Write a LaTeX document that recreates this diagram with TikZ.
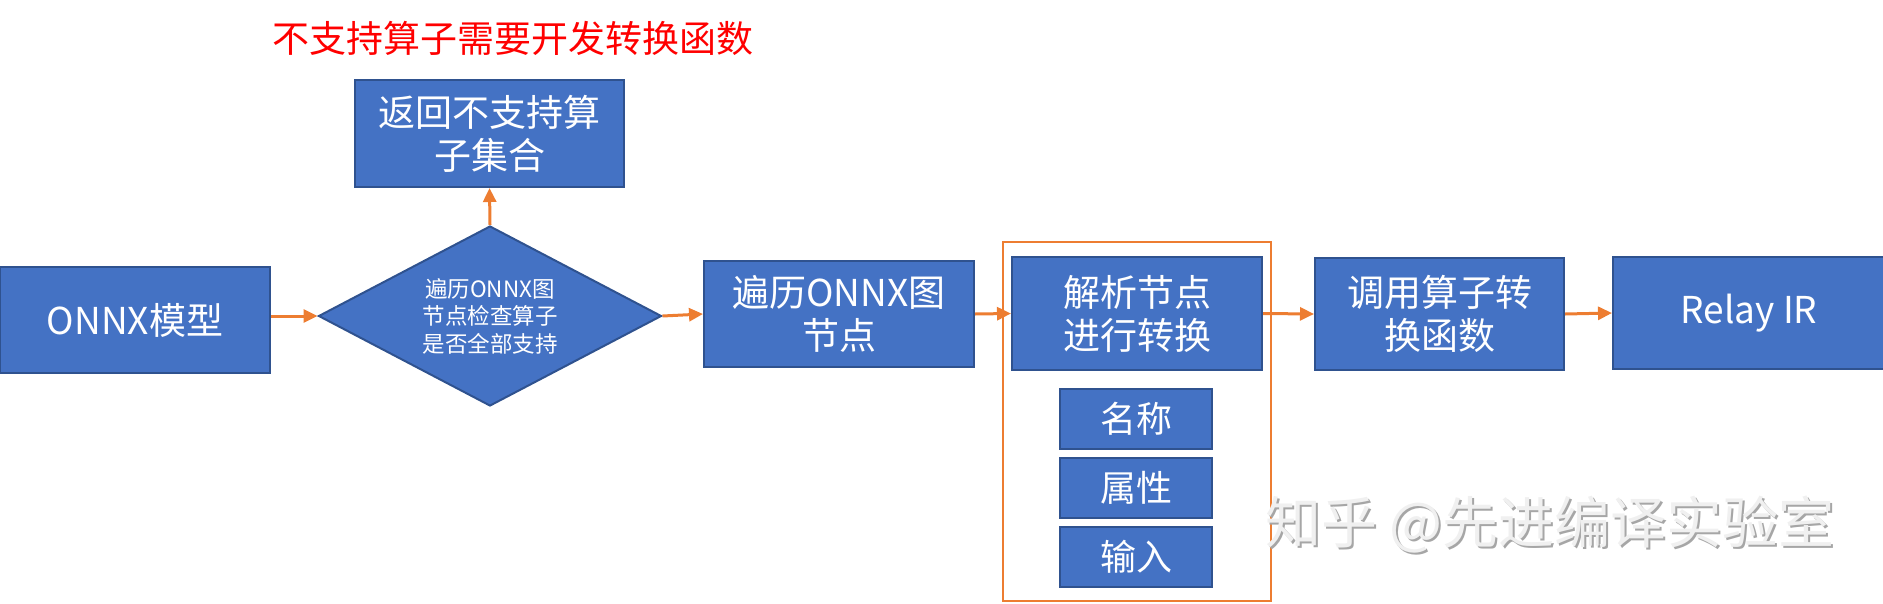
\documentclass[tikz,border=0pt]{standalone}
\usepackage{fontspec}
\setmainfont{Noto Sans CJK SC}
\usetikzlibrary{shapes.geometric,arrows.meta}
\definecolor{boxblue}{HTML}{4472C4}
\definecolor{boxedge}{HTML}{2F528F}
\definecolor{arrorange}{HTML}{ED7D31}
\definecolor{titlered}{HTML}{FF0000}
\begin{document}
\begin{tikzpicture}[x=1pt,y=-1pt,
  bluebox/.style={draw=boxedge,line width=2pt,fill=boxblue,text=white,inner sep=0pt,align=center,font=\fontsize{37}{43}\selectfont},
  smallbox/.style={bluebox,minimum width=152pt,minimum height=60pt,font=\fontsize{36}{43}\selectfont},
  flow/.style={draw=arrorange,line width=3pt,-{Triangle[length=14pt,width=13pt]}},
  groupbox/.style={draw=arrorange,line width=2pt,inner sep=0pt},
  wmark/.style={font=\fontsize{56}{60}\selectfont}]
\useasboundingbox (0,0) rectangle (1883,603);
% title
\node[text=titlered,font=\fontsize{37}{43}\selectfont] (title) at (513,38) {不支持算子需要开发转换函数};
% boxes
\node[bluebox,minimum width=270pt,minimum height=106pt] (onnx) at (135,320) {ONNX模型};
\node[bluebox,minimum width=269pt,minimum height=107pt] (ret) at (489.5,133.5) {返回不支持算\\子集合};
\node[bluebox,shape=diamond,shape aspect=1.9,minimum width=343pt,minimum height=180pt,font=\fontsize{22.5}{27.5}\selectfont] (check) at (490,316) {遍历ONNX图\\节点检查算子\\是否全部支持};
\node[bluebox,minimum width=270pt,minimum height=106pt] (trav) at (839,314) {遍历ONNX图\\节点};
\node[groupbox,minimum width=268pt,minimum height=359pt] (group) at (1137,421.5) {};
\node[bluebox,minimum width=250pt,minimum height=113pt] (parse) at (1137,313.5) {解析节点\\进行转换};
\node[smallbox] (name) at (1136,419) {名称};
\node[smallbox] (attr) at (1136,488) {属性};
\node[smallbox] (inp) at (1136,557) {输入};
\node[bluebox,minimum width=249pt,minimum height=112pt] (call) at (1439.5,314) {调用算子转\\换函数};
\node[bluebox,minimum width=272pt,minimum height=112pt] (relay) at (1749,313) {Relay IR};
% arrows
\draw[flow] (onnx.east |- check.west) -- (check.west);
\draw[flow] (check.north) -- (ret.south);
\draw[flow] (check.east) -- (trav.west);
\draw[flow] (trav.east) -- (parse.west);
\draw[flow] (parse.east) -- (call.west);
\draw[flow] (call.east) -- (relay.west);
% watermark
\node[text=black!35,wmark] (wmshadow) at (1552,527) {知乎 @先进编译实验室};
\node[text=black!6,wmark] (wm) at (1550,525) {知乎 @先进编译实验室};
\end{tikzpicture}
\end{document}
